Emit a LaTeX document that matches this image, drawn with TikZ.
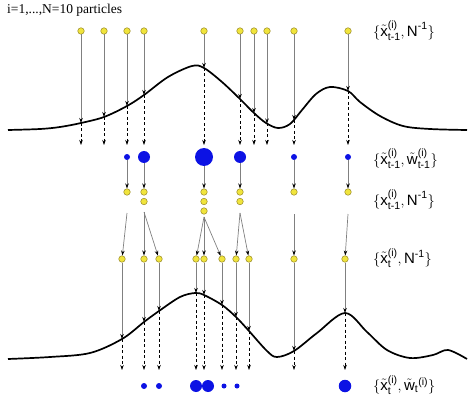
\documentclass[tikz,border=0pt]{standalone}
\usepackage{amsmath}
\usepackage{fontspec}
\setmainfont{Liberation Serif}
\setsansfont{Liberation Sans}
\usetikzlibrary{arrows.meta}
\definecolor{dotyellow}{RGB}{240,228,60}
\definecolor{dotedge}{RGB}{150,135,35}
\definecolor{weightblue}{RGB}{12,18,228}
\tikzset{
    particle/.style = {circle, draw=dotedge, fill=dotyellow, line width=0.5pt,
                 inner sep=0pt, minimum size=6.5pt},
    weight/.style = {circle, fill=weightblue, inner sep=0pt, minimum size=#1},
    prop/.style = {draw=gray, line width=0.7pt, -{Stealth[length=5pt,width=3.5pt,black]}},
    meas/.style = {draw=black, line width=0.6pt, dash pattern=on 3pt off 2.5pt,
                 -{Stealth[length=5pt,width=3.5pt]}},
    density/.style = {line width=1.7pt, line join=round},
    setname/.style = {anchor=west, inner sep=0pt, font=\sffamily\fontsize{15}{17}\selectfont},
}

\begin{document}
\begin{tikzpicture}[x=1pt,y=-1pt]
\useasboundingbox (0,0) rectangle (474,409);
\node (title) [anchor=west,inner sep=0pt,font=\fontsize{13.5}{16}\selectfont] at (7,10) {i=1,...,N=10 particles};
% prior particles
\node (t1) [particle] at (81,31) {};
\node (t2) [particle] at (104,31) {};
\node (t3) [particle] at (127,31) {};
\node (t4) [particle] at (144,31) {};
\node (t5) [particle] at (204,31) {};
\node (t6) [particle] at (240,31) {};
\node (t7) [particle] at (254,31) {};
\node (t8) [particle] at (267,31) {};
\node (t9) [particle] at (294,31) {};
\node (t10) [particle] at (348,31) {};
% likelihood at t-1
\draw[density] plot[smooth,tension=0.55] coordinates {(8,130) (40,129) (60,127) (81,123) (104,117)
  (127,106) (144,95) (168,77) (192,66) (204,68) (222,82) (240,99) (254,113) (266,123) (278,128)
  (290,124) (302,110) (316,94) (330,87) (348,91) (360,102) (380,116) (403,126) (430,129) (467,130)};
\coordinate (p1) at (81,123);
\coordinate (p2) at (104,117);
\coordinate (p3) at (127,106);
\coordinate (p4) at (144,95);
\coordinate (p5) at (204,68);
\coordinate (p6) at (240,99);
\coordinate (p7) at (254,113);
\coordinate (p8) at (267,123.5);
\coordinate (p9) at (294,120);
\coordinate (p10) at (348,91);
\draw[prop] (t1) -- (p1);
\draw[prop] (t2) -- (p2);
\draw[prop] (t3) -- (p3);
\draw[prop] (t4) -- (p4);
\draw[prop] (t5) -- (p5);
\draw[prop] (t6) -- (p6);
\draw[prop] (t7) -- (p7);
\draw[prop] (t8) -- (p8);
\draw[prop] (t9) -- (p9);
\draw[prop] (t10) -- (p10);
\draw[meas] (p1) -- (81,145);
\draw[meas] (p2) -- (104,145);
\draw[meas] (p3) -- (127,145);
\draw[meas] (p4) -- (144,145);
\draw[meas] (p5) -- (204,145);
\draw[meas] (p6) -- (240,145);
\draw[meas] (p7) -- (254,145);
\draw[meas] (p8) -- (267,145);
\draw[meas] (p9) -- (294,145);
\draw[meas] (p10) -- (348,145);
% weighted particles
\node (w1) [weight=6pt] at (127,157) {};
\node (w2) [weight=12pt] at (144,157) {};
\node (w3) [weight=18pt] at (204,157) {};
\node (w4) [weight=12pt] at (240,157) {};
\node (w5) [weight=6pt] at (294,157) {};
\node (w6) [weight=6pt] at (348,157) {};
% resampled particles
\node (m1) [particle] at (127,192) {};
\node (m2) [particle] at (144,192) {};
\node (m3) [particle] at (144,201.5) {};
\node (m4) [particle] at (204,192) {};
\node (m5) [particle] at (204,201.5) {};
\node (m6) [particle] at (204,211) {};
\node (m7) [particle] at (240,192) {};
\node (m8) [particle] at (240,201.5) {};
\node (m9) [particle] at (294,192) {};
\node (m10) [particle] at (348,192) {};
\draw[prop] (w1) -- (m1);
\draw[prop] (w2) -- (m2);
\draw[prop] (w3) -- (m4);
\draw[prop] (w4) -- (m7);
\draw[prop] (w5) -- (m9);
\draw[prop] (w6) -- (m10);
% predicted particles
\coordinate (s1) at (127,213);
\coordinate (s2) at (144,212);
\coordinate (s3) at (204,217);
\coordinate (s4) at (240,213);
\coordinate (s5) at (294,214);
\coordinate (s6) at (348,214);
\node (b1) [particle] at (122,259) {};
\node (b2) [particle] at (144,259) {};
\node (b3) [particle] at (159,259) {};
\node (b4) [particle] at (196,259) {};
\node (b5) [particle] at (204,259) {};
\node (b6) [particle] at (222,259) {};
\node (b7) [particle] at (236,259) {};
\node (b8) [particle] at (249,259) {};
\node (b9) [particle] at (294,259) {};
\node (b10) [particle] at (345,259) {};
\draw[prop] (s1) -- (b1);
\draw[prop] (s2) -- (b2);
\draw[prop] (s2) -- (b3);
\draw[prop] (s3) -- (b4);
\draw[prop] (s3) -- (b5);
\draw[prop] (s3) -- (b6);
\draw[prop] (s4) -- (b7);
\draw[prop] (s4) -- (b8);
\draw[prop] (s5) -- (b9);
\draw[prop] (s6) -- (b10);
% likelihood at t
\draw[density] plot[smooth,tension=0.55] coordinates {(8,359) (50,357) (90,353) (122,339) (144,322)
  (159,311) (180,297) (195,293) (204,295) (222,305) (236,317) (249,331) (267,351) (277,357)
  (294,351) (317,333) (345,313) (367,332) (387,350) (410,358) (433,355) (448,350) (467,359)};
\coordinate (q1) at (122,339);
\coordinate (q2) at (144,322);
\coordinate (q3) at (159,311);
\coordinate (q4) at (196,293);
\coordinate (q5) at (204,295);
\coordinate (q6) at (222,305);
\coordinate (q7) at (236,317);
\coordinate (q8) at (249,331);
\coordinate (q9) at (294,351);
\coordinate (q10) at (345,313);
\draw[prop] (b1) -- (q1);
\draw[prop] (b2) -- (q2);
\draw[prop] (b3) -- (q3);
\draw[prop] (b4) -- (q4);
\draw[prop] (b5) -- (q5);
\draw[prop] (b6) -- (q6);
\draw[prop] (b7) -- (q7);
\draw[prop] (b8) -- (q8);
\draw[prop] (b9) -- (q9);
\draw[prop] (b10) -- (q10);
\draw[meas] (q1) -- (122,370);
\draw[meas] (q2) -- (144,370);
\draw[meas] (q3) -- (159,370);
\draw[meas] (q4) -- (196,370);
\draw[meas] (q5) -- (204,370);
\draw[meas] (q6) -- (222,370);
\draw[meas] (q7) -- (236,370);
\draw[meas] (q8) -- (249,370);
\draw[meas] (q9) -- (294,370);
\draw[meas] (q10) -- (345,370);
% weighted particles at t
\node (v1) [weight=6pt] at (144,386) {};
\node (v2) [weight=6pt] at (159,386) {};
\node (v3) [weight=12pt] at (196,386) {};
\node (v4) [weight=12pt] at (208,386) {};
\node (v5) [weight=5pt] at (224,386) {};
\node (v6) [weight=5pt] at (237,386) {};
\node (v7) [weight=12.5pt] at (345,386) {};
% set labels
\node (L1) [setname] at (373,31) {$\{\tilde{\text{x}}^{\text{(i)}}_{\text{t-1}},\text{N}^{\text{-1}}\}$};
\node (L2) [setname] at (373,159) {$\{\tilde{\text{x}}^{\text{(i)}}_{\text{t-1}},\tilde{\text{w}}^{\text{(i)}}_{\text{t-1}}\}$};
\node (L3) [setname] at (373,200) {$\{\text{x}^{\text{(i)}}_{\text{t-1}},\text{N}^{\text{-1}}\}$};
\node (L4) [setname] at (373,258) {$\{\tilde{\text{x}}^{\text{(i)}}_{\text{t}},\text{N}^{\text{-1}}\}$};
\node (L5) [setname] at (373,385) {$\{\tilde{\text{x}}^{\text{(i)}}_{\text{t}},\tilde{\text{w}}_{\text{t}}{}^{\text{(i)}}\}$};
\end{tikzpicture}
\end{document}
